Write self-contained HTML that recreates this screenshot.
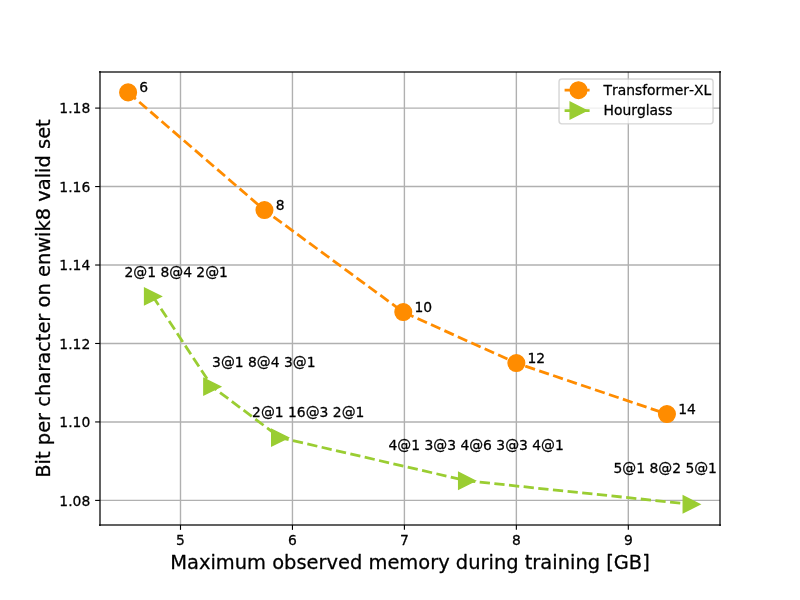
<!DOCTYPE html>
<html><head><meta charset="utf-8"><title>plot</title>
<style>html,body{margin:0;padding:0;background:#fff;width:800px;height:600px;overflow:hidden}svg{display:block}
text{font-family:"DejaVu Sans",sans-serif;font-kerning:none;stroke:#000;stroke-width:0.2px}</style></head>
<body>
<svg width="800" height="600" viewBox="0 0 576 432" version="1.1">
  <defs>
  <style type="text/css">*{stroke-linejoin: round; stroke-linecap: butt}</style>
 </defs>
 <g id="figure_1">
  <g id="patch_1">
   <path d="M 0 432 L 576 432 L 576 0 L 0 0 z
" style="fill: #ffffff"/>
  </g>
  <g id="axes_1">
   <g id="patch_2">
    <path d="M 72 378 L 518.4 378 L 518.4 51.84 L 72 51.84 z
" style="fill: #ffffff"/>
   </g>
   <g id="matplotlib.axis_1">
    <g id="xtick_1">
     <g id="line2d_1">
      <path d="M 129.95623 378 L 129.95623 51.84 " clip-path="url(#pd5119d9a1f)" style="fill: none; stroke: #b0b0b0; stroke-linecap: square"/>
     </g>
     <g id="line2d_2">
      <defs>
       <path id="m1504cfccaf" d="M 0 0 L 0 3.5 " style="stroke: #000000; stroke-width: 0.8"/>
      </defs>
      <g>
       <use href="#m1504cfccaf" x="129.95623" y="378" style="stroke: #000000; stroke-width: 0.8"/>
      </g>
     </g>
     <g id="text_1">
      <text style="font-size: 10px; font-family: 'DejaVu Sans', sans-serif; text-anchor: middle" x="129.95623" y="392.598437">5</text>
     </g>
    </g>
    <g id="xtick_2">
     <g id="line2d_3">
      <path d="M 210.562947 378 L 210.562947 51.84 " clip-path="url(#pd5119d9a1f)" style="fill: none; stroke: #b0b0b0; stroke-linecap: square"/>
     </g>
     <g id="line2d_4">
      <g>
       <use href="#m1504cfccaf" x="210.562947" y="378" style="stroke: #000000; stroke-width: 0.8"/>
      </g>
     </g>
     <g id="text_2">
      <text style="font-size: 10px; font-family: 'DejaVu Sans', sans-serif; text-anchor: middle" x="210.562947" y="392.598437">6</text>
     </g>
    </g>
    <g id="xtick_3">
     <g id="line2d_5">
      <path d="M 291.169664 378 L 291.169664 51.84 " clip-path="url(#pd5119d9a1f)" style="fill: none; stroke: #b0b0b0; stroke-linecap: square"/>
     </g>
     <g id="line2d_6">
      <g>
       <use href="#m1504cfccaf" x="291.169664" y="378" style="stroke: #000000; stroke-width: 0.8"/>
      </g>
     </g>
     <g id="text_3">
      <text style="font-size: 10px; font-family: 'DejaVu Sans', sans-serif; text-anchor: middle" x="291.169664" y="392.598437">7</text>
     </g>
    </g>
    <g id="xtick_4">
     <g id="line2d_7">
      <path d="M 371.776381 378 L 371.776381 51.84 " clip-path="url(#pd5119d9a1f)" style="fill: none; stroke: #b0b0b0; stroke-linecap: square"/>
     </g>
     <g id="line2d_8">
      <g>
       <use href="#m1504cfccaf" x="371.776381" y="378" style="stroke: #000000; stroke-width: 0.8"/>
      </g>
     </g>
     <g id="text_4">
      <text style="font-size: 10px; font-family: 'DejaVu Sans', sans-serif; text-anchor: middle" x="371.776381" y="392.598437">8</text>
     </g>
    </g>
    <g id="xtick_5">
     <g id="line2d_9">
      <path d="M 452.383099 378 L 452.383099 51.84 " clip-path="url(#pd5119d9a1f)" style="fill: none; stroke: #b0b0b0; stroke-linecap: square"/>
     </g>
     <g id="line2d_10">
      <g>
       <use href="#m1504cfccaf" x="452.383099" y="378" style="stroke: #000000; stroke-width: 0.8"/>
      </g>
     </g>
     <g id="text_5">
      <text style="font-size: 10px; font-family: 'DejaVu Sans', sans-serif; text-anchor: middle" x="452.383099" y="392.598437">9</text>
     </g>
    </g>
    <g id="text_6">
     <text style="font-size: 14px; font-family: 'DejaVu Sans', sans-serif; text-anchor: middle" x="295.2" y="409.675938">Maximum observed memory during training [GB]</text>
    </g>
   </g>
   <g id="matplotlib.axis_2">
    <g id="ytick_1">
     <g id="line2d_11">
      <path d="M 72 360.289571 L 518.4 360.289571 " clip-path="url(#pd5119d9a1f)" style="fill: none; stroke: #b0b0b0; stroke-linecap: square"/>
     </g>
     <g id="line2d_12">
      <defs>
       <path id="m5d545ce8f8" d="M 0 0 L -3.5 0 " style="stroke: #000000; stroke-width: 0.8"/>
      </defs>
      <g>
       <use href="#m5d545ce8f8" x="72" y="360.289571" style="stroke: #000000; stroke-width: 0.8"/>
      </g>
     </g>
     <g id="text_7">
      <text style="font-size: 10px; font-family: 'DejaVu Sans', sans-serif; text-anchor: end" x="65" y="364.08879">1.08</text>
     </g>
    </g>
    <g id="ytick_2">
     <g id="line2d_13">
      <path d="M 72 303.796976 L 518.4 303.796976 " clip-path="url(#pd5119d9a1f)" style="fill: none; stroke: #b0b0b0; stroke-linecap: square"/>
     </g>
     <g id="line2d_14">
      <g>
       <use href="#m5d545ce8f8" x="72" y="303.796976" style="stroke: #000000; stroke-width: 0.8"/>
      </g>
     </g>
     <g id="text_8">
      <text style="font-size: 10px; font-family: 'DejaVu Sans', sans-serif; text-anchor: end" x="65" y="307.596195">1.10</text>
     </g>
    </g>
    <g id="ytick_3">
     <g id="line2d_15">
      <path d="M 72 247.30438 L 518.4 247.30438 " clip-path="url(#pd5119d9a1f)" style="fill: none; stroke: #b0b0b0; stroke-linecap: square"/>
     </g>
     <g id="line2d_16">
      <g>
       <use href="#m5d545ce8f8" x="72" y="247.30438" style="stroke: #000000; stroke-width: 0.8"/>
      </g>
     </g>
     <g id="text_9">
      <text style="font-size: 10px; font-family: 'DejaVu Sans', sans-serif; text-anchor: end" x="65" y="251.103599">1.12</text>
     </g>
    </g>
    <g id="ytick_4">
     <g id="line2d_17">
      <path d="M 72 190.811785 L 518.4 190.811785 " clip-path="url(#pd5119d9a1f)" style="fill: none; stroke: #b0b0b0; stroke-linecap: square"/>
     </g>
     <g id="line2d_18">
      <g>
       <use href="#m5d545ce8f8" x="72" y="190.811785" style="stroke: #000000; stroke-width: 0.8"/>
      </g>
     </g>
     <g id="text_10">
      <text style="font-size: 10px; font-family: 'DejaVu Sans', sans-serif; text-anchor: end" x="65" y="194.611004">1.14</text>
     </g>
    </g>
    <g id="ytick_5">
     <g id="line2d_19">
      <path d="M 72 134.319189 L 518.4 134.319189 " clip-path="url(#pd5119d9a1f)" style="fill: none; stroke: #b0b0b0; stroke-linecap: square"/>
     </g>
     <g id="line2d_20">
      <g>
       <use href="#m5d545ce8f8" x="72" y="134.319189" style="stroke: #000000; stroke-width: 0.8"/>
      </g>
     </g>
     <g id="text_11">
      <text style="font-size: 10px; font-family: 'DejaVu Sans', sans-serif; text-anchor: end" x="65" y="138.118408">1.16</text>
     </g>
    </g>
    <g id="ytick_6">
     <g id="line2d_21">
      <path d="M 72 77.826594 L 518.4 77.826594 " clip-path="url(#pd5119d9a1f)" style="fill: none; stroke: #b0b0b0; stroke-linecap: square"/>
     </g>
     <g id="line2d_22">
      <g>
       <use href="#m5d545ce8f8" x="72" y="77.826594" style="stroke: #000000; stroke-width: 0.8"/>
      </g>
     </g>
     <g id="text_12">
      <text style="font-size: 10px; font-family: 'DejaVu Sans', sans-serif; text-anchor: end" x="65" y="81.625813">1.18</text>
     </g>
    </g>
    <g id="text_13">
     <text style="font-size: 14px; font-family: 'DejaVu Sans', sans-serif; text-anchor: middle" x="35.822812" y="214.92" transform="rotate(-90 35.822812 214.92)">Bit per character on enwik8 valid set</text>
    </g>
   </g>
   <g id="line2d_23">
    <path d="M 92.232286 66.528075 L 190.411268 151.266968 L 290.363597 224.707342 L 371.776381 261.427529 L 480.192416 298.147716 " clip-path="url(#pd5119d9a1f)" style="fill: none; stroke-dasharray: 7.4,3.2; stroke-dashoffset: 0; stroke: #ff8c00; stroke-width: 2"/>
    <defs>
     <path id="m807cebde25" d="M 0 6 C 1.591219 6 3.117479 5.367802 4.242641 4.242641 C 5.367802 3.117479 6 1.591219 6 0 C 6 -1.591219 5.367802 -3.117479 4.242641 -4.242641 C 3.117479 -5.367802 1.591219 -6 0 -6 C -1.591219 -6 -3.117479 -5.367802 -4.242641 -4.242641 C -5.367802 -3.117479 -6 -1.591219 -6 0 C -6 1.591219 -5.367802 3.117479 -4.242641 4.242641 C -3.117479 5.367802 -1.591219 6 0 6 z
" style="stroke: #ff8c00"/>
    </defs>
    <g clip-path="url(#pd5119d9a1f)">
     <use href="#m807cebde25" x="92.232286" y="66.528075" style="fill: #ff8c00; stroke: #ff8c00"/>
     <use href="#m807cebde25" x="190.411268" y="151.266968" style="fill: #ff8c00; stroke: #ff8c00"/>
     <use href="#m807cebde25" x="290.363597" y="224.707342" style="fill: #ff8c00; stroke: #ff8c00"/>
     <use href="#m807cebde25" x="371.776381" y="261.427529" style="fill: #ff8c00; stroke: #ff8c00"/>
     <use href="#m807cebde25" x="480.192416" y="298.147716" style="fill: #ff8c00; stroke: #ff8c00"/>
    </g>
   </g>
   <g id="line2d_24">
    <path d="M 110.094735 213.408823 L 152.767931 278.375308 L 201.615601 315.095495 L 336.228819 346.166422 L 497.925894 363.114201 " clip-path="url(#pd5119d9a1f)" style="fill: none; stroke-dasharray: 7.4,3.2; stroke-dashoffset: 0; stroke: #9acd32; stroke-width: 2"/>
    <defs>
     <path id="m439644b1b7" d="M 6 0 L -6 -6 L -6 6 z
" style="stroke: #9acd32; stroke-linejoin: miter"/>
    </defs>
    <g clip-path="url(#pd5119d9a1f)">
     <use href="#m439644b1b7" x="110.094735" y="213.408823" style="fill: #9acd32; stroke: #9acd32; stroke-linejoin: miter"/>
     <use href="#m439644b1b7" x="152.767931" y="278.375308" style="fill: #9acd32; stroke: #9acd32; stroke-linejoin: miter"/>
     <use href="#m439644b1b7" x="201.615601" y="315.095495" style="fill: #9acd32; stroke: #9acd32; stroke-linejoin: miter"/>
     <use href="#m439644b1b7" x="336.228819" y="346.166422" style="fill: #9acd32; stroke: #9acd32; stroke-linejoin: miter"/>
     <use href="#m439644b1b7" x="497.925894" y="363.114201" style="fill: #9acd32; stroke: #9acd32; stroke-linejoin: miter"/>
    </g>
   </g>
   <g id="patch_3">
    <path d="M 72 378 L 72 51.84 " style="fill: none; stroke: #000000; stroke-opacity: 0.62; stroke-width: 1.44; stroke-linejoin: miter; stroke-linecap: square"/>
   </g>
   <g id="patch_4">
    <path d="M 518.4 378 L 518.4 51.84 " style="fill: none; stroke: #000000; stroke-opacity: 0.62; stroke-width: 1.44; stroke-linejoin: miter; stroke-linecap: square"/>
   </g>
   <g id="patch_5">
    <path d="M 72 378 L 518.4 378 " style="fill: none; stroke: #000000; stroke-opacity: 0.62; stroke-width: 1.44; stroke-linejoin: miter; stroke-linecap: square"/>
   </g>
   <g id="patch_6">
    <path d="M 72 51.84 L 518.4 51.84 " style="fill: none; stroke: #000000; stroke-opacity: 0.62; stroke-width: 1.44; stroke-linejoin: miter; stroke-linecap: square"/>
   </g>
   <g id="text_14">
    <text style="font-size: 10px; font-family: 'DejaVu Sans', sans-serif; text-anchor: start" x="100.292958" y="66.528075">6</text>
   </g>
   <g id="text_15">
    <text style="font-size: 10px; font-family: 'DejaVu Sans', sans-serif; text-anchor: start" x="198.471939" y="151.266968">8</text>
   </g>
   <g id="text_16">
    <text style="font-size: 10px; font-family: 'DejaVu Sans', sans-serif; text-anchor: start" x="298.424269" y="224.707342">10</text>
   </g>
   <g id="text_17">
    <text style="font-size: 10px; font-family: 'DejaVu Sans', sans-serif; text-anchor: start" x="379.837053" y="261.427529">12</text>
   </g>
   <g id="text_18">
    <text style="font-size: 10px; font-family: 'DejaVu Sans', sans-serif; text-anchor: start" x="488.253088" y="298.147716">14</text>
   </g>
   <g id="text_19">
    <text style="font-size: 10px; font-family: 'DejaVu Sans', sans-serif; text-anchor: start" x="89.64" y="199.152">2@1 8@4 2@1</text>
   </g>
   <g id="text_20">
    <text style="font-size: 10px; font-family: 'DejaVu Sans', sans-serif; text-anchor: start" x="152.712" y="263.952">3@1 8@4 3@1</text>
   </g>
   <g id="text_21">
    <text style="font-size: 10px; font-family: 'DejaVu Sans', sans-serif; text-anchor: start" x="181.512" y="300.528">2@1 16@3 2@1</text>
   </g>
   <g id="text_22">
    <text style="font-size: 10px; font-family: 'DejaVu Sans', sans-serif; text-anchor: start" x="279.72" y="323.856">4@1 3@3 4@6 3@3 4@1</text>
   </g>
   <g id="text_23">
    <text style="font-size: 10px; font-family: 'DejaVu Sans', sans-serif; text-anchor: start" x="441.72" y="340.776">5@1 8@2 5@1</text>
   </g>
   <g id="legend_1">
    <g id="patch_7">
     <path d="M 404.509375 89.19625 L 511.4 89.19625 Q 513.4 89.19625 513.4 87.19625 L 513.4 58.84 Q 513.4 56.84 511.4 56.84 L 404.509375 56.84 Q 402.509375 56.84 402.509375 58.84 L 402.509375 87.19625 Q 402.509375 89.19625 404.509375 89.19625 z
" style="fill: #ffffff; opacity: 0.8; stroke: #cccccc; stroke-linejoin: miter"/>
    </g>
    <g id="line2d_25">
     <path d="M 406.509375 64.938437 L 416.509375 64.938437 L 426.509375 64.938437 " style="fill: none; stroke-dasharray: 7.4,3.2; stroke-dashoffset: 0; stroke: #ff8c00; stroke-width: 2"/>
     <g>
      <use href="#m807cebde25" x="416.509375" y="64.938437" style="fill: #ff8c00; stroke: #ff8c00"/>
     </g>
    </g>
    <g id="text_24">
     <text style="font-size: 10px; font-family: 'DejaVu Sans', sans-serif; text-anchor: start" x="434.509375" y="68.438437">Transformer-XL</text>
    </g>
    <g id="line2d_26">
     <path d="M 406.509375 79.616562 L 416.509375 79.616562 L 426.509375 79.616562 " style="fill: none; stroke-dasharray: 7.4,3.2; stroke-dashoffset: 0; stroke: #9acd32; stroke-width: 2"/>
     <g>
      <use href="#m439644b1b7" x="416.509375" y="79.616562" style="fill: #9acd32; stroke: #9acd32; stroke-linejoin: miter"/>
     </g>
    </g>
    <g id="text_25">
     <text style="font-size: 10px; font-family: 'DejaVu Sans', sans-serif; text-anchor: start" x="434.509375" y="83.116562">Hourglass</text>
    </g>
   </g>
  </g>
 </g>
 <defs>
  <clipPath id="pd5119d9a1f">
   <rect x="72" y="51.84" width="446.4" height="326.16"/>
  </clipPath>
 </defs>
</svg>

</body></html>
